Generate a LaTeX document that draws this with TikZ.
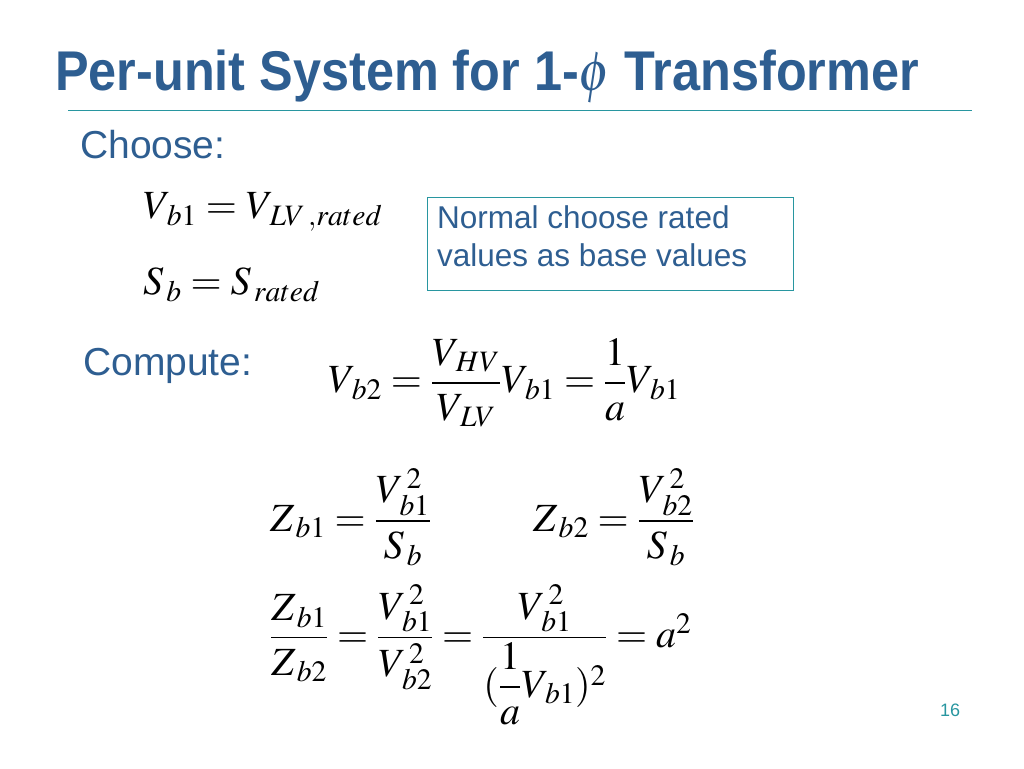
\documentclass[tikz,border=0pt]{standalone}
\usepackage{mathptmx}
\usepackage{amsmath}
\usepackage{fontspec}
\setmainfont{Liberation Sans}
\definecolor{tblue}{RGB}{46,94,145}
\definecolor{teal1}{RGB}{40,150,160}
\begin{document}
\begin{tikzpicture}[x=1pt,y=-1pt,
  txt/.style={text=tblue,font=\fontsize{39}{44}\selectfont,anchor=base west,inner sep=0},
  eq/.style={font=\fontsize{40}{48}\selectfont,anchor=west,inner sep=0}]
\useasboundingbox (0,0) rectangle (1024,768);
\node[anchor=base west,inner sep=0,text=tblue] (title) at (55,90)
  {\scalebox{0.9}[1]{\fontsize{56}{60}\selectfont\bfseries Per-unit System for 1-$\phi$ Transformer}};
\draw[teal1,line width=1pt] (68,110) coordinate (l1) -- (972,110) coordinate (l2);
\node[txt] (choose) at (80,158) {Choose:};
\node[draw=teal1,line width=1pt,minimum width=366,minimum height=93,anchor=north west,inner sep=0] (box) at (427,197) {};
\node[anchor=north west,align=left,text=tblue,font=\fontsize{31.5}{38}\selectfont,inner sep=0] (boxt) at (437,205) {Normal choose rated\\values as base values};
\node[eq] (e1) at (143,212) {$V_{\,b1}=V_{\,LV\,,rated}$};
\node[eq] (e2) at (143,285) {$S_{\,b}=S_{\,rated}$};
\node[txt] (compute) at (83,375) {Compute:};
\node[eq] (e3) at (328,383) {$V_{\,b2}=\dfrac{V_{\,HV}}{V_{\,LV}}V_{\,b1}=\dfrac{1}{a}V_{\,b1}$};
\node[eq] (e4) at (270,517) {$Z_{\,b1}=\dfrac{V_{\,b1}^{\,2}}{S_{\,b}}$};
\node[eq] (e5) at (533,517) {$Z_{\,b2}=\dfrac{V_{\,b2}^{\,2}}{S_{\,b}}$};
\node[eq] (e6) at (270,655) {$\dfrac{Z_{\,b1}}{Z_{\,b2}}=\dfrac{V_{\,b1}^{\,2}}{V_{\,b2}^{\,2}}=\dfrac{V_{\,b1}^{\,2}}{(\dfrac{1}{a}V_{\,b1})^{2}}=a^{2}$};
\node[anchor=base,text=teal1,font=\fontsize{18}{20}\selectfont,inner sep=0] (pg) at (950,716) {16};
\end{tikzpicture}
\end{document}
